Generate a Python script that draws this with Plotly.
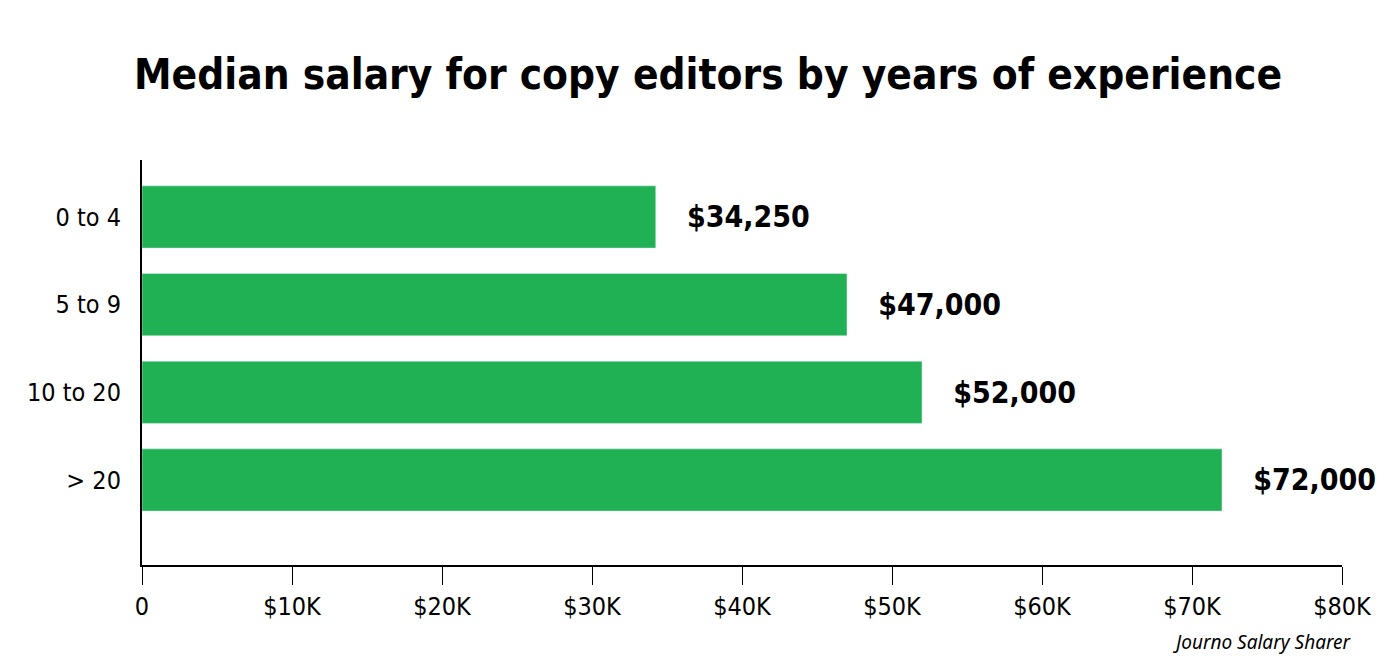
import plotly.graph_objects as go

groups = ["0 to 4", "5 to 9", "10 to 20", "> 20"]
salaries = [34250, 47000, 52000, 72000]
labels = ["$34,250", "$47,000", "$52,000", "$72,000"]
tick_vals = [0, 10000, 20000, 30000, 40000, 50000, 60000, 70000, 80000]
tick_text = ["0", "$10K", "$20K", "$30K", "$40K", "$50K", "$60K", "$70K", "$80K"]

font = "DejaVu Sans Condensed, Liberation Sans Narrow, sans-serif"

fig = go.Figure(go.Bar(
    x=salaries, y=groups, orientation="h",
    marker_color="#20b155", width=0.71,
    text=["&nbsp;&nbsp;&nbsp;" + t for t in labels], textposition="outside", cliponaxis=False,
    textfont=dict(family=font, size=30, color="black", weight="bold"),
))

fig.update_layout(
    width=1400, height=661,
    plot_bgcolor="white", paper_bgcolor="white",
    margin=dict(l=134, r=66, t=152, b=104),
    showlegend=False,
    title=dict(text="<b>Median salary for copy editors by years of experience</b>",
               x=0.5, xanchor="center", y=0.9, yanchor="middle",
               font=dict(family=font, size=42, color="black")),
    font=dict(family=font, color="black"),
)
fig.update_xaxes(range=[0, 80000], tickvals=tick_vals, ticktext=tick_text,
                 showgrid=False, showline=True, linecolor="black", linewidth=1.5,
                 ticks="outside", ticklen=18, tickcolor="black", automargin=False,
                 tickfont=dict(size=25, family=font), zeroline=False)
fig.update_yaxes(categoryorder="array", categoryarray=groups,
                 range=[3.97, -0.65], showgrid=False, showline=True,
                 linecolor="black", linewidth=1.5, ticks="", automargin=False,
                 tickfont=dict(size=25, family=font), ticksuffix="  ")
fig.add_annotation(text="<i>Journo Salary Sharer</i>", xref="paper", yref="paper",
                   x=1.01, y=-0.19, xanchor="right", yanchor="middle", showarrow=False,
                   font=dict(family="Noto Sans, sans-serif", size=19, color="black"))

fig.write_html("out.html")
